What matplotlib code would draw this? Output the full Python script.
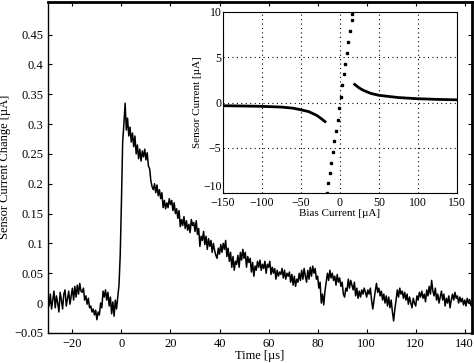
import numpy as np
import matplotlib.pyplot as plt

plt.rcParams['font.family'] = ['Liberation Serif', 'DejaVu Serif']

# main trace: sensor current change, sampled every 0.5 us starting at -30 us
t0 = -30.0
dt = 0.5
signal = [
    0.010, -0.005, 0.015, -0.010, 0.005, 0.020, -0.008, 0.012, 0.000, -0.015,
    0.018, 0.005, -0.010, 0.015, 0.022, -0.005, 0.008, 0.020, -0.002, 0.012,
    0.025, 0.005, 0.028, 0.010, 0.030, 0.015, 0.033, 0.020, 0.018, 0.025,
    0.005, 0.012, -0.002, 0.008, -0.008, -0.005, -0.015, -0.010, -0.020, -0.012,
    -0.028, -0.015, -0.020, 0.000, -0.008, 0.020, 0.010, 0.022, 0.005, 0.018,
    -0.005, 0.010, -0.018, 0.002, -0.022, 0.005, -0.010, 0.010, 0.030, 0.080,
    0.170, 0.270, 0.300, 0.335, 0.290, 0.310, 0.280, 0.295, 0.270, 0.285,
    0.262, 0.280, 0.250, 0.265, 0.242, 0.258, 0.238, 0.255, 0.245, 0.258,
    0.240, 0.252, 0.230, 0.225, 0.205, 0.195, 0.190, 0.200, 0.185, 0.198,
    0.180, 0.190, 0.175, 0.185, 0.160, 0.172, 0.158, 0.168, 0.160, 0.175,
    0.165, 0.172, 0.155, 0.168, 0.150, 0.158, 0.142, 0.155, 0.128, 0.140,
    0.130, 0.145, 0.125, 0.138, 0.122, 0.132, 0.118, 0.140, 0.130, 0.135,
    0.120, 0.138, 0.115, 0.125, 0.095, 0.112, 0.105, 0.120, 0.098, 0.112,
    0.090, 0.108, 0.095, 0.105, 0.085, 0.100, 0.088, 0.080, 0.075, 0.092,
    0.082, 0.098, 0.085, 0.100, 0.090, 0.105, 0.078, 0.092, 0.070, 0.085,
    0.060, 0.078, 0.055, 0.070, 0.065, 0.080, 0.060, 0.085, 0.072, 0.090,
    0.075, 0.085, 0.060, 0.078, 0.068, 0.075, 0.052, 0.068, 0.045, 0.062,
    0.055, 0.070, 0.060, 0.072, 0.055, 0.065, 0.058, 0.070, 0.050, 0.065,
    0.060, 0.070, 0.048, 0.060, 0.050, 0.058, 0.040, 0.055, 0.045, 0.052,
    0.048, 0.058, 0.042, 0.055, 0.040, 0.050, 0.045, 0.052, 0.035, 0.048,
    0.030, 0.045, 0.028, 0.040, 0.035, 0.050, 0.038, 0.055, 0.040, 0.058,
    0.045, 0.035, 0.055, 0.040, 0.060, 0.045, 0.062, 0.050, 0.058, 0.040,
    0.045, 0.025, 0.035, 0.000, 0.015, -0.003, 0.020, 0.035, 0.050, 0.038,
    0.055, 0.042, 0.050, 0.038, 0.045, 0.030, 0.048, 0.035, 0.042, 0.028,
    0.035, 0.015, 0.010, 0.025, 0.020, 0.040, 0.025, 0.038, 0.030, 0.022,
    0.035, 0.012, 0.025, 0.008, 0.020, 0.010, 0.022, 0.015, 0.025, 0.018,
    0.010, 0.022, 0.015, 0.025, 0.005, -0.010, 0.005, 0.020, 0.033, 0.018,
    0.025, 0.012, 0.020, 0.005, 0.015, 0.000, 0.012, -0.005, 0.010, -0.008,
    0.005, -0.015, -0.030, -0.010, 0.005, 0.022, 0.010, 0.025, 0.015, 0.020,
    0.008, 0.018, 0.005, 0.015, -0.002, 0.010, 0.000, -0.008, 0.008, 0.000,
    -0.005, 0.012, 0.005, 0.018, 0.010, 0.020, 0.008, 0.015, 0.002, 0.022,
    0.012, 0.028, 0.015, 0.038, 0.020, 0.012, 0.025, 0.005, 0.015, 0.000,
    0.010, 0.020, 0.005, 0.015, -0.005, 0.008, 0.000, 0.012, -0.008, 0.005,
    0.015, 0.005, 0.018, 0.008, 0.012, 0.000, 0.010, 0.002, 0.008, -0.003,
    0.005, -0.005, 0.008, 0.000, 0.006, -0.004, 0.003, 0.000,
]
time = t0 + dt * np.arange(len(signal))

# inset: I-V characteristic
neg_bias = [-150, -125, -100, -75, -60, -50, -40, -30, -25, -19]
neg_sensor = [-0.35, -0.38, -0.42, -0.5, -0.62, -0.8, -1.0, -1.4, -1.7, -2.1]
pos_bias = [19, 25, 30, 40, 50, 75, 100, 125, 150]
pos_sensor = [2.0, 1.6, 1.35, 1.0, 0.8, 0.55, 0.42, 0.35, 0.3]
sc_bias = [-17, -15, -13, -11, -9, -7, -5, -3, -1, 1, 3, 5, 7, 9, 11, 13, 15, 16]
sc_sensor = [-10, -8.9, -7.8, -6.7, -5.5, -4.3, -3.1, -1.9, -0.6, 0.6, 1.9, 3.1, 4.3, 5.5, 6.7, 7.9, 9.1, 9.8]

xticks_main = [-20, 0, 20, 40, 60, 80, 100, 120, 140]
yticks_main = [-0.05, 0, 0.05, 0.1, 0.15, 0.2, 0.25, 0.3, 0.35, 0.4, 0.45]
ytick_labels = ['\u22120.05', '0', '0.05', '0.1', '0.15', '0.2', '0.25', '0.3', '0.35', '0.4', '0.45']
xticks_in = [-150, -100, -50, 0, 50, 100, 150]
yticks_in = [-10, -5, 0, 5, 10]

fig = plt.figure(figsize=(4.74, 3.63), dpi=100)
ax = fig.add_axes([0.101, 0.083, 0.895, 0.912])
ax.plot(time, signal, color='black', linewidth=1.1)
ax.set_xlim(-30, 143)
ax.set_ylim(-0.05, 0.505)
ax.set_xticks(xticks_main)
ax.set_xticklabels([str(v).replace('-', '\u2212') for v in xticks_main])
ax.set_yticks(yticks_main)
ax.set_yticklabels(ytick_labels)
ax.tick_params(direction='in', labelsize=9, length=3, top=True, right=True)
ax.set_xlabel('Time [\u00b5s]', fontsize=9, labelpad=0)
ax.set_ylabel('Sensor Current Change [\u00b5A]', fontsize=9, labelpad=2)
for s in ax.spines.values():
    s.set_linewidth(1.0)
ax.spines['right'].set_linewidth(2.0)
ax.spines['top'].set_linewidth(2.0)

ins = fig.add_axes([0.470, 0.468, 0.494, 0.499])
ins.plot(neg_bias, neg_sensor, color='black', linewidth=2.0)
ins.plot(pos_bias, pos_sensor, color='black', linewidth=2.0)
ins.plot(sc_bias, sc_sensor, color='black', linestyle='none', marker='s', markersize=1.6)
ins.set_xlim(-150, 150)
ins.set_ylim(-10, 10)
ins.set_xticks(xticks_in)
ins.set_xticklabels([str(v).replace('-', '\u2212') for v in xticks_in])
ins.set_yticks(yticks_in)
ins.set_yticklabels([str(v).replace('-', '\u2212') for v in yticks_in])
ins.get_yticklabels()[0].set_va('bottom')
ins.grid(True, color='black', linestyle=(0, (1, 3)), linewidth=0.8)
ins.tick_params(direction='in', labelsize=8.5, length=0)
ins.tick_params(axis='x', pad=3)
ins.tick_params(axis='y', pad=1)
ins.set_xlabel('Bias Current [\u00b5A]', fontsize=8, labelpad=0)
ins.set_ylabel('Sensor Current [\u00b5A]', fontsize=8, labelpad=1)

fig.savefig('out.png', dpi=100)
